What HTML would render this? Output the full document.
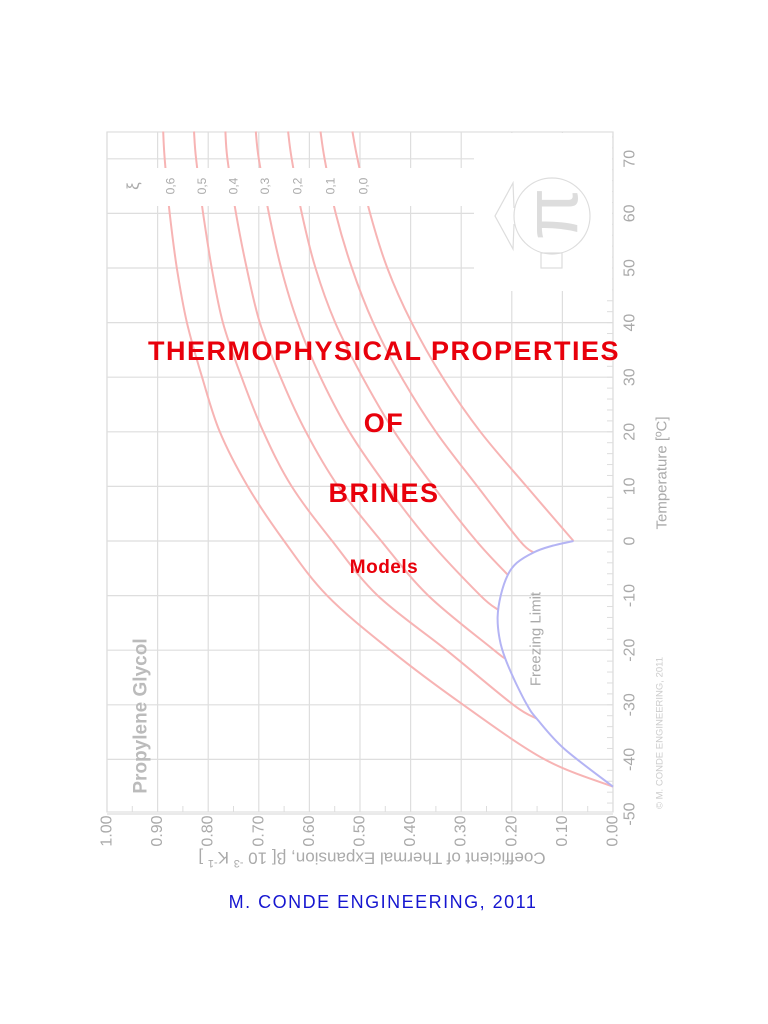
<!DOCTYPE html>
<html><head><meta charset="utf-8"><style>
html,body{margin:0;padding:0;background:#fff;}
svg{display:block;}
text{font-family:"Liberation Sans",sans-serif;}
</style></head><body>
<svg id="c" width="768" height="1024" viewBox="0 0 768 1024" xmlns="http://www.w3.org/2000/svg"></svg>
<script>
const tempTicks=[-50,-40,-30,-20,-10,0,10,20,30,40,50,60,70];
const betaTicks=[0,0.1,0.2,0.3,0.4,0.5,0.6,0.7,0.8,0.9,1.0];
const seriesNames=["0,0","0,1","0,2","0,3","0,4","0,5","0,6"];
const t00=[0,10,20,30,40,50,60,70,75];
const b00=[0.078,0.171,0.262,0.337,0.398,0.446,0.48,0.505,0.515];
const t01=[-2.1,0,10,20,30,40,50,60,70,75];
const b01=[0.157,0.184,0.268,0.35,0.418,0.474,0.516,0.548,0.57,0.578];
const t02=[-6.2,0,10,20,30,40,50,60,70,75];
const b02=[0.208,0.27,0.355,0.432,0.495,0.549,0.588,0.615,0.635,0.642];
const t03=[-12.6,-10,0,10,20,30,40,50,60,70,75];
const b03=[0.227,0.262,0.363,0.447,0.521,0.578,0.623,0.656,0.68,0.7,0.706];
const t04=[-21.5,-20,-10,0,10,20,30,40,50,60,70,75];
const b04=[0.213,0.235,0.365,0.458,0.543,0.607,0.657,0.698,0.724,0.745,0.762,0.766];
const t05=[-32.5,-30,-20,-10,0,10,20,30,40,50,60,70,75];
const b05=[0.151,0.197,0.329,0.465,0.555,0.635,0.691,0.734,0.771,0.793,0.81,0.824,0.828];
const t06=[-45,-40,-30,-20,-10,0,10,20,30,40,50,60,70,75];
const b06=[0,0.135,0.296,0.44,0.565,0.65,0.722,0.777,0.812,0.842,0.862,0.876,0.886,0.889];
const freezeT=[0,-1,-2.1,-4,-6.2,-10,-14,-18,-21.5,-26,-30,-32.5,-38,-45];
const freezeB=[0.078,0.125,0.157,0.19,0.208,0.222,0.228,0.224,0.213,0.192,0.17,0.151,0.097,0];
const seriesT=[t00,t01,t02,t03,t04,t05,t06];
const seriesB=[b00,b01,b02,b03,b04,b05,b06];

const svg=document.getElementById('c');
const NS='http://www.w3.org/2000/svg';
const L=107,R=613,TOP=132,BOT=812;
function xb(b){return 613-b*506;}
function yt(t){return 541-t*5.46;}
function mk(tag,attrs,parent){const e=document.createElementNS(NS,tag);for(const k in attrs)e.setAttribute(k,attrs[k]);(parent||svg).appendChild(e);return e;}
function path(ts,bs){
  const p=ts.map((t,i)=>[xb(bs[i]),yt(t)]);
  let d='M'+p[0][0].toFixed(1)+','+p[0][1].toFixed(1);
  for(let i=0;i<p.length-1;i++){
    const p0=p[Math.max(0,i-1)],p1=p[i],p2=p[i+1],p3=p[Math.min(p.length-1,i+2)];
    const c1=[p1[0]+(p2[0]-p0[0])/6,p1[1]+(p2[1]-p0[1])/6];
    const c2=[p2[0]-(p3[0]-p1[0])/6,p2[1]-(p3[1]-p1[1])/6];
    d+=' C'+c1.map(v=>v.toFixed(1)).join(',')+' '+c2.map(v=>v.toFixed(1)).join(',')+' '+p2[0].toFixed(1)+','+p2[1].toFixed(1);
  }
  return d;
}
const grid=mk('g',{});


tempTicks.forEach(t=>{const l=mk('line',{x1:L,x2:R,y1:yt(t),y2:yt(t),stroke:'#dedede','stroke-width':1.2},grid);
});
betaTicks.forEach(b=>{const l=mk('line',{x1:xb(b),x2:xb(b),y1:TOP,y2:BOT,stroke:'#dedede','stroke-width':1.2},grid);
});
mk('rect',{x:L,y:TOP,width:R-L,height:BOT-TOP,fill:'none',stroke:'#dedede','stroke-width':1.2},grid);
for(let t=-50;t<=74;t+=2){mk('line',{x1:R-6,x2:R,y1:yt(t),y2:yt(t),stroke:'#ddd'},grid);}
for(let b=0.05;b<1;b+=0.1){mk('line',{x1:xb(b),x2:xb(b),y1:BOT-6,y2:BOT,stroke:'#ddd'},grid);}
const cover=mk('rect',{x:474,y:133,width:138,height:158,fill:'#fff'});

seriesT.forEach((ts,i)=>{const p=mk('path',{d:path(ts,seriesB[i]),fill:'none',stroke:'#f7b4b4','stroke-width':2});
});
const fz=mk('path',{d:path(freezeT,freezeB),fill:'none',stroke:'#b4b4f4','stroke-width':2});

const band=mk('rect',{x:108,y:168,width:365,height:38,fill:'#fff'});

function rtext(x,y,s,attrs,name,rot){const tx=mk('text',Object.assign({x:x,y:y,'text-anchor':'middle','dominant-baseline':'central',transform:'rotate('+(rot===undefined?-90:rot)+' '+x+' '+y+')'},attrs));tx.textContent=s;
return tx;}
seriesNames.forEach((n,i)=>{const b=seriesB[i][seriesB[i].length-2];rtext(xb(b)+6,186,n,{fill:'#aaa','font-size':12},'xi-label');});
rtext(133,186,'ξ',{fill:'#aaa','font-size':17},'xi-symbol');
tempTicks.forEach(t=>rtext(630,yt(t),String(t),{fill:'#aaa','font-size':16},'temperature-tick-label'));
betaTicks.forEach(b=>rtext(xb(b),831,b.toFixed(2),{fill:'#aaa','font-size':16},'beta-tick-label'));
rtext(662,473,'Temperature [ºC]',{fill:'#aaa','font-size':15},'y-axis-title');
const bt=rtext(372,858,'',{fill:'#aaa','font-size':17},'x-axis-title',180);
bt.innerHTML='Coefficient of Thermal Expansion, β[ 10 <tspan font-size="11" dy="-5">-3</tspan><tspan dy="5"> K</tspan><tspan font-size="11" dy="-5">-1</tspan><tspan dy="5"> ]</tspan>';
rtext(141,716,'Propylene Glycol',{fill:'#bbb','font-size':19,'font-weight':'bold'},'fluid-name');
rtext(536,639,'Freezing Limit',{fill:'#aaa','font-size':15},'freezing-limit-label');
rtext(660,733,'© M. CONDE ENGINEERING, 2011',{fill:'#ccc','font-size':9.5},'copyright');
const lg=mk('g',{fill:'none',stroke:'#ddd','stroke-width':1.2});

mk('circle',{cx:552,cy:216,r:38},lg);
mk('polyline',{points:'514,208 513,183 495,216 513,249 514,224',fill:'none'},lg);
mk('rect',{x:541,y:253,width:21,height:15},lg);
const pi=rtext(552,214,'π',{fill:'#ddd','font-size':76,'font-family':'Liberation Serif, serif',stroke:'none'},'logo-pi');
lg.appendChild(pi);
function title(y,s,size,name,ls){const tx=mk('text',{x:384,y:y,'text-anchor':'middle','font-size':size,'font-weight':'bold',fill:'#e8000b','letter-spacing':ls||0});tx.textContent=s;return tx;}
title(360,'THERMOPHYSICAL PROPERTIES',27,'title-line-1',1.5);
title(432,'OF',27,'title-line-2',1.5);
title(502,'BRINES',27,'title-line-3',1.5);
title(573,'Models',19,'subtitle',0.5);
const ft=mk('text',{x:383,y:908,'text-anchor':'middle','font-size':18,fill:'#1616d0','letter-spacing':1.5});
ft.textContent='M. CONDE ENGINEERING, 2011';

</script>
</body></html>
